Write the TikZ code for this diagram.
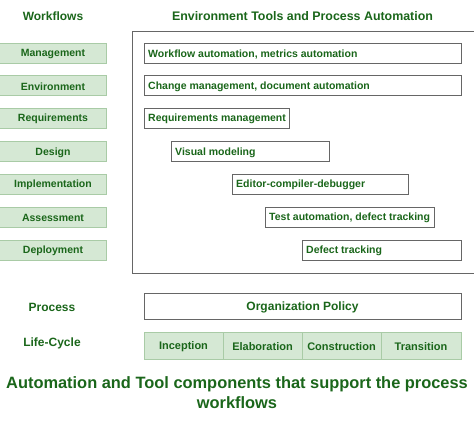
\documentclass[tikz,border=0pt]{standalone}
\usepackage{fontspec}
\setmainfont{Liberation Sans}
\definecolor{txtgreen}{HTML}{1A661A}
\definecolor{wffill}{HTML}{D5E8D4}
\definecolor{wfdraw}{HTML}{A9CBA6}
\definecolor{boxdraw}{HTML}{666666}
\begin{document}
\begin{tikzpicture}[x=1pt,y=-1pt,
  every node/.style={font=\bfseries, text=txtgreen},
  wftext/.style={yshift=-1.2pt, font=\fontsize{10.5}{12}\bfseries\selectfont},
  wfbox/.style={draw=wfdraw, fill=wffill, line width=0.8pt},
  toolbox/.style={draw=boxdraw, fill=white, line width=0.9pt},
  tooltext/.style={anchor=west, inner sep=0pt, yshift=-1.2pt, font=\fontsize{10.5}{12}\bfseries\selectfont},
  header/.style={font=\fontsize{12}{14}\bfseries\selectfont},
  lcbox/.style={draw=wfdraw, fill=wffill, line width=0.8pt},
  lctext/.style={yshift=-1pt, font=\fontsize{11}{13}\bfseries\selectfont}
]
\useasboundingbox (0,0) rectangle (474,422);
\begin{scope}
\clip (0,0) rectangle (474,422);
% headers
\node[header] (hwf) at (53,16) {Workflows};
\node[header, font=\fontsize{12.4}{14}\bfseries\selectfont] (het) at (302.5,16) {Environment Tools and Process Automation};
% big box
\draw[draw=boxdraw, line width=1pt] (132,32) rectangle (480,273);
% workflow boxes
\foreach \n/\t/\y in {wm/Management/43, we/Environment/75.5, wr/Requirements/108, wd/Design/141.5, wi/Implementation/174, wa/Assessment/207, wdp/Deployment/240}{
  \draw[wfbox] (-2,\y) rectangle (106,\y+20);
  \node[wftext] (\n) at (53,\y+10) {\t};
}
% tool boxes
\foreach \n/\t/\xa/\xb/\y in {ta/{Workflow automation, metrics automation}/144/461/43,
  tb/{Change management, document automation}/144/461/75.5,
  tc/{Requirements management}/144/289/108,
  td/{Visual modeling}/171/329/141.5,
  te/{Editor-compiler-debugger}/232/408/174,
  tf/{Test automation, defect tracking}/265/434/207,
  tg/{Defect tracking}/302/461/240}{
  \draw[toolbox] (\xa,\y) rectangle (\xb,\y+20);
  \node[tooltext] (\n) at (\xa+4,\y+10) {\t};
}
% process
\node[header] (proc) at (52,307) {Process};
\draw[toolbox] (144,293) rectangle (461,319);
\node[yshift=-1.2pt, font=\fontsize{12}{14}\bfseries\selectfont] (org) at (302.5,306) {Organization Policy};
% life-cycle
\node[header] (lc) at (52,343) {Life-Cycle};
\foreach \n/\t/\xa/\xb in {li/Inception/144/223, le/Elaboration/223/302, lco/Construction/302/381, lt/Transition/381/461}{
  \draw[lcbox] (\xa,332) rectangle (\xb,359);
  \node[lctext] (\n) at ({(\xa+\xb)/2},345.5) {\t};
}
% caption
\node[font=\fontsize{16.4}{20}\bfseries\selectfont, align=center] (cap) at (237,392.5) {Automation and Tool components that support the process\\workflows};
\end{scope}
\end{tikzpicture}
\end{document}
